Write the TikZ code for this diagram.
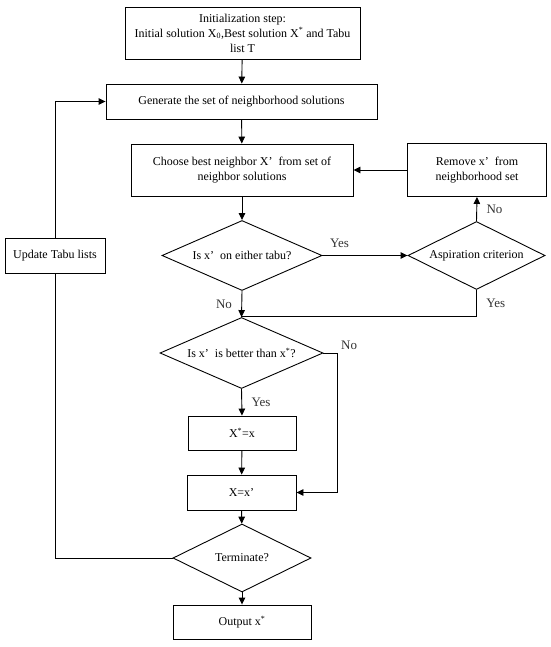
\documentclass[tikz,border=0pt]{standalone}
\usepackage{fontspec}
\setmainfont{Liberation Serif}
\usetikzlibrary{
    arrows.meta,
    shapes.geometric,
    calc
}

\begin{document}
\begin{tikzpicture}[x=1pt, y=-1pt,
    font=\fontsize{12}{15}\selectfont,
    every path/.style={line width=0.9pt},
    flowbox/.style={draw, rectangle, align=center, inner sep=0pt},
    decide/.style={draw, diamond, aspect=2.2, align=center, inner sep=0pt},
    flow/.style={-{Triangle[length=7pt, width=6.5pt]}},
    ans/.style={font=\fontsize{13}{15}\selectfont, text=black!80}]
    \useasboundingbox (0, 0) rectangle (550, 647);
    \node[flowbox, minimum width=235, minimum height=52] (init) at (242.5, 33)
        {Initialization step:\\Initial solution X\textsubscript{0},Best solution X\textsuperscript{*} and Tabu\\list T};
    \node[flowbox, minimum width=271, minimum height=35] (gen) at (241.5, 101.5)
        {Generate the set of neighborhood solutions};
    \node[flowbox, minimum width=222, minimum height=52] (choose) at (242, 170)
        {Choose best neighbor X’~ from set of\\neighbor solutions};
    \node[flowbox, minimum width=139, minimum height=53] (remove) at (477, 170)
        {Remove x’~ from\\neighborhood set};
    \node[decide, minimum width=160, minimum height=70] (tabu) at (242, 255.5)
        {Is x’~ on either tabu?};
    \node[decide, minimum width=137, minimum height=68] (asp) at (476.5, 255.5)
        {Aspiration criterion};
    \node[decide, minimum width=163, minimum height=71] (better) at (241.5, 353)
        {Is x’~ is better than x\textsuperscript{*}?};
    \node[flowbox, minimum width=108, minimum height=34] (xstar) at (242, 433)
        {X\textsuperscript{*}=x};
    \node[flowbox, minimum width=109, minimum height=35] (xnew) at (241.5, 492.5)
        {X=x’};
    \node[decide, minimum width=138, minimum height=68] (term) at (242, 558)
        {Terminate?};
    \node[flowbox, minimum width=138, minimum height=34] (output) at (242, 622)
        {Output x\textsuperscript{*}};
    \node[flowbox, minimum width=100, minimum height=35] (update) at (55, 255.5)
        {Update Tabu lists};

    \draw[flow] (init) -- (gen);
    \draw[flow] (gen) -- (choose);
    \draw[flow] (choose) -- (tabu);
    \draw[flow] (tabu.east) -- node[ans, pos=0.2, above=4pt]{Yes} (asp.west);
    \draw[flow] (asp.north) -- node[ans, right=6pt]{No} (remove.south);
    \draw[flow] (remove.west) -- (choose.east);
    \draw[flow] (tabu.south) -- node[ans, left=6pt]{No} (better.north);
    \draw (asp.south) -- node[ans, pos=0.5, right=6pt]{Yes} ++(0, 26) -| (better.north);
    \draw[flow] (better.east) -- node[ans, pos=1, above right=0pt]{No} ++(14, 0) |- (xnew.east);
    \draw[flow] (better.south) -- node[ans, right=6pt]{Yes} (xstar.north);
    \draw[flow] (xstar) -- (xnew);
    \draw[flow] (xnew) -- (term);
    \draw[flow] (term) -- (output);
    \draw (term.west) -| (update.south);
    \draw[flow] (update.north) |- (gen.west);
\end{tikzpicture}
\end{document}
